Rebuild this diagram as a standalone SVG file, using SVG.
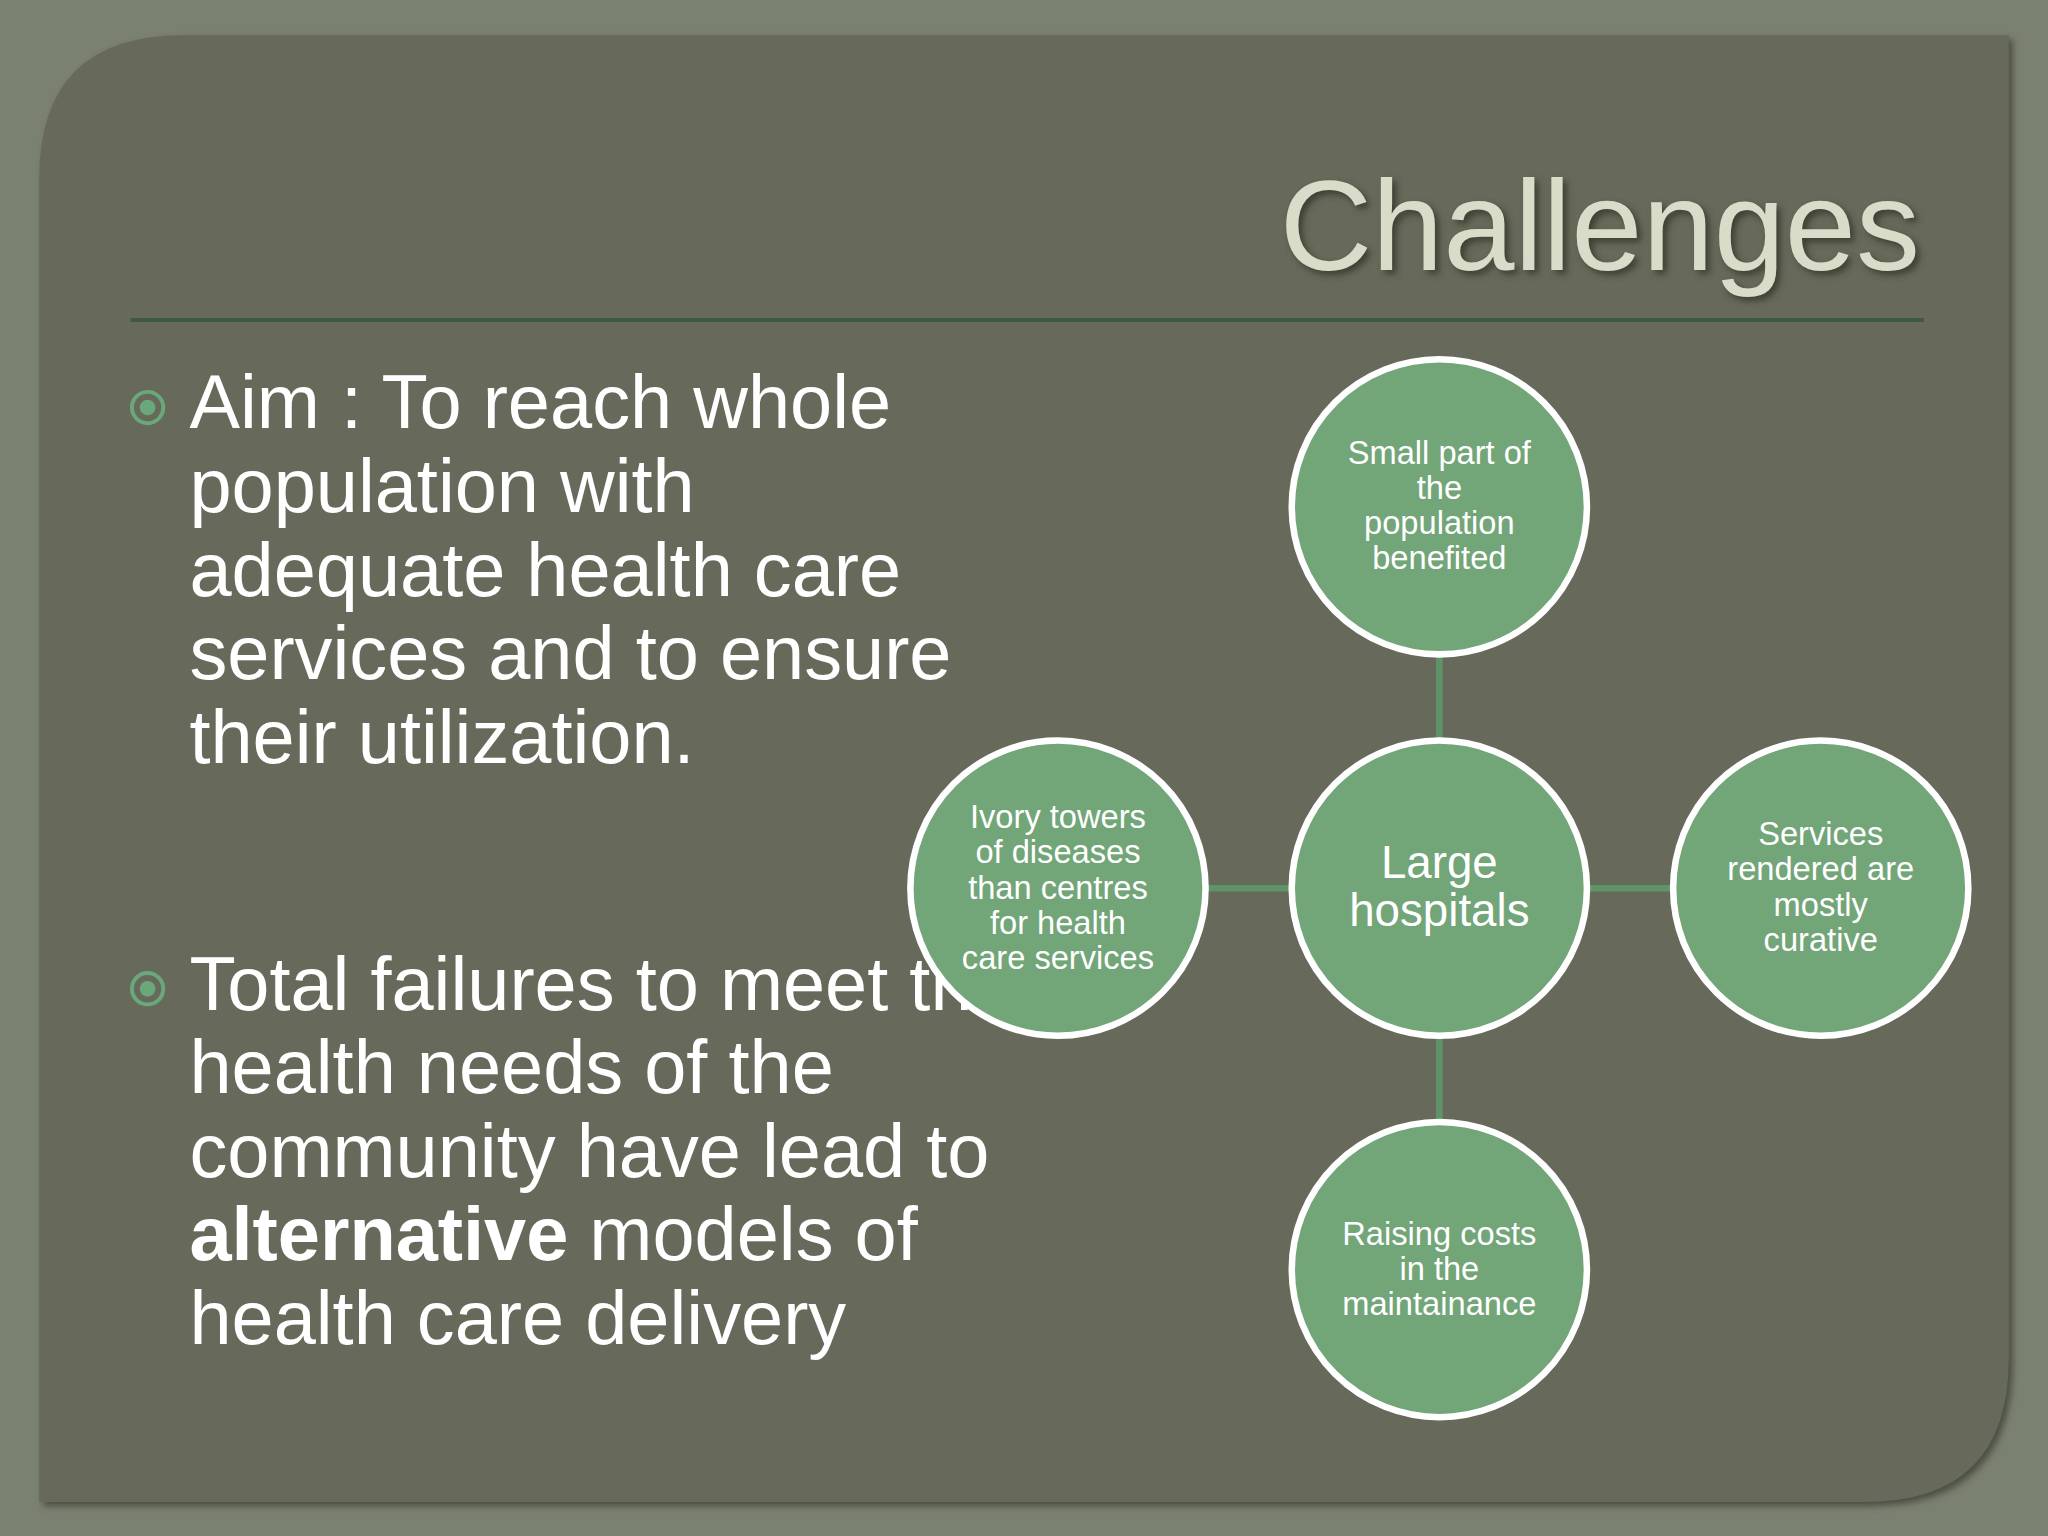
<svg xmlns="http://www.w3.org/2000/svg" width="2048" height="1536" viewBox="0 0 2048 1536">
<style>
.b{font-family:"Liberation Sans",Arial,sans-serif;font-size:58px;fill:#ffffff}
.c{font-family:"Liberation Sans",Arial,sans-serif;font-size:25px;fill:#ffffff;text-anchor:middle}
.L{font-size:35px}
.n{fill:#72a578;stroke:#ffffff;stroke-width:5}
</style>
<defs><filter id="sh"><feGaussianBlur stdDeviation="3"/></filter></defs>
<rect width="2048" height="1536" fill="#7b8171"/>
<g transform="scale(1.30612)">
<path d="M140 27 H1538 V1040 Q1538 1150 1428 1150 H30 V137 Q30 27 140 27 Z" fill="#4a4d40" filter="url(#sh)" transform="translate(3,3)"/>
<path d="M140 27 H1538 V1040 Q1538 1150 1428 1150 H30 V137 Q30 27 140 27 Z" fill="#676a5a"/>
<text x="1473" y="210" font-family="Liberation Sans,Arial,sans-serif" font-size="98" text-anchor="end" fill="#3a3c30" filter="url(#sh)">Challenges</text>
<text x="1470" y="207" font-family="Liberation Sans,Arial,sans-serif" font-size="98" text-anchor="end" fill="#d9dcc8">Challenges</text>
<line x1="100" y1="245" x2="1473" y2="245" stroke="#3d5a45" stroke-width="3"/>
<g id="bullet1">
<circle cx="113" cy="312" r="12" fill="none" stroke="#6aa77a" stroke-width="3"/><circle cx="113" cy="312" r="6" fill="#6aa77a"/>
<text class="b" x="145" y="328">Aim : To reach whole</text>
<text class="b" x="145" y="392">population with</text>
<text class="b" x="145" y="456">adequate health care</text>
<text class="b" x="145" y="520">services and to ensure</text>
<text class="b" x="145" y="584">their utilization.</text>
</g>
<g id="bullet2">
<circle cx="113" cy="757" r="12" fill="none" stroke="#6aa77a" stroke-width="3"/><circle cx="113" cy="757" r="6" fill="#6aa77a"/>
<text class="b" x="145" y="773">Total failures to meet the</text>
<text class="b" x="145" y="837">health needs of the</text>
<text class="b" x="145" y="901">community have lead to</text>
<text class="b" x="145" y="965"><tspan font-weight="bold">alternative</tspan> models of</text>
<text class="b" x="145" y="1029">health care delivery</text>
</g>
<g id="connectors" stroke="#5f9469" stroke-width="5">
<line x1="1102" y1="500" x2="1102" y2="568"/>
<line x1="1102" y1="792" x2="1102" y2="860"/>
<line x1="922" y1="680" x2="990" y2="680"/>
<line x1="1214" y1="680" x2="1282" y2="680"/>
</g>
<g id="top"><circle class="n" cx="1102" cy="388" r="113"/>
<text class="c" x="1102" y="355">Small part of</text><text class="c" x="1102" y="382">the</text><text class="c" x="1102" y="409">population</text><text class="c" x="1102" y="436">benefited</text></g>
<g id="left"><circle class="n" cx="810" cy="680" r="113"/>
<text class="c" x="810" y="634">Ivory towers</text><text class="c" x="810" y="661">of diseases</text><text class="c" x="810" y="688">than centres</text><text class="c" x="810" y="715">for health</text><text class="c" x="810" y="742">care services</text></g>
<g id="center"><circle class="n" cx="1102" cy="680" r="113"/>
<text class="c L" x="1102" y="672">Large</text><text class="c L" x="1102" y="709">hospitals</text></g>
<g id="right"><circle class="n" cx="1394" cy="680" r="113"/>
<text class="c" x="1394" y="647">Services</text><text class="c" x="1394" y="674">rendered are</text><text class="c" x="1394" y="701">mostly</text><text class="c" x="1394" y="728">curative</text></g>
<g id="bottom"><circle class="n" cx="1102" cy="972" r="113"/>
<text class="c" x="1102" y="953">Raising costs</text><text class="c" x="1102" y="980">in the</text><text class="c" x="1102" y="1007">maintainance</text></g>
</g>
</svg>
